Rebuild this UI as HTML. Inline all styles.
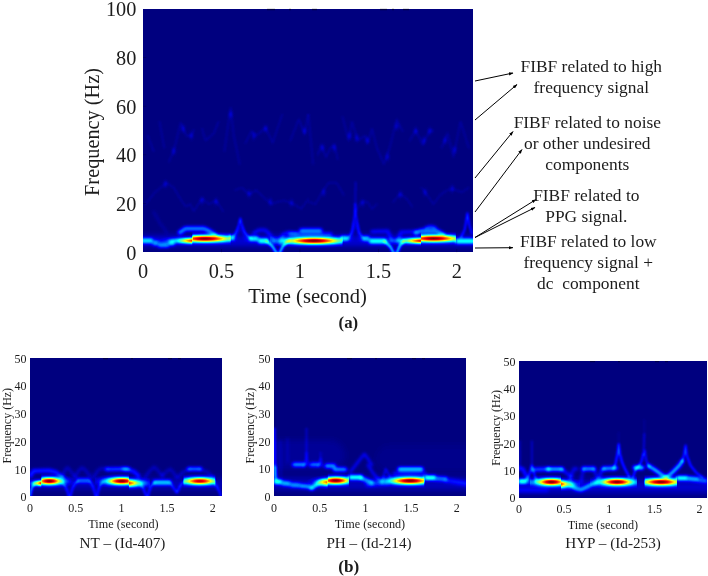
<!DOCTYPE html>
<html><head><meta charset="utf-8"><title>Figure</title>
<style>
html,body{margin:0;padding:0;background:#fff;}
body{width:708px;height:576px;position:relative;overflow:hidden;font-family:"Liberation Serif",serif;color:#1a1a1a;}
.plot{position:absolute;overflow:hidden;display:block;}
.t{position:absolute;white-space:nowrap;line-height:1;}
.r{text-align:right;}
.c{text-align:center;}
</style></head><body>
<svg width="0" height="0" style="position:absolute"><defs>
<radialGradient id="gg"><stop offset="0.000" stop-color="#fff" stop-opacity="1.000"/><stop offset="0.083" stop-color="#fff" stop-opacity="0.969"/><stop offset="0.167" stop-color="#fff" stop-opacity="0.882"/><stop offset="0.250" stop-color="#fff" stop-opacity="0.755"/><stop offset="0.333" stop-color="#fff" stop-opacity="0.607"/><stop offset="0.417" stop-color="#fff" stop-opacity="0.458"/><stop offset="0.500" stop-color="#fff" stop-opacity="0.325"/><stop offset="0.583" stop-color="#fff" stop-opacity="0.216"/><stop offset="0.667" stop-color="#fff" stop-opacity="0.135"/><stop offset="0.750" stop-color="#fff" stop-opacity="0.080"/><stop offset="0.833" stop-color="#fff" stop-opacity="0.044"/><stop offset="0.917" stop-color="#fff" stop-opacity="0.023"/><stop offset="1.000" stop-color="#fff" stop-opacity="0.000"/></radialGradient>
<filter id="b1" filterUnits="userSpaceOnUse" x="-20" y="-20" width="400" height="300"><feGaussianBlur stdDeviation="0.9"/></filter>
<filter id="b2" filterUnits="userSpaceOnUse" x="-20" y="-20" width="400" height="300"><feGaussianBlur stdDeviation="1.8"/></filter>
<filter id="b3" filterUnits="userSpaceOnUse" x="-20" y="-20" width="400" height="300"><feGaussianBlur stdDeviation="3"/></filter>
<filter id="jet" filterUnits="userSpaceOnUse" x="-20" y="-20" width="400" height="300" color-interpolation-filters="sRGB">
<feComponentTransfer>
<feFuncR type="table" tableValues="0 0 0 0 0.5 1 1 1 0.5"/>
<feFuncG type="table" tableValues="0 0 0.5 1 1 1 0.5 0 0"/>
<feFuncB type="table" tableValues="0.5 1 1 1 0.5 0 0 0 0"/>
</feComponentTransfer></filter>
<marker id="ah" viewBox="0 0 10 10" refX="9" refY="5" markerWidth="4.6" markerHeight="4.6" orient="auto"><path d="M0 1.5 L10 5 L0 8.5 Z" fill="#000"/></marker>
</defs></svg>
<svg class="plot" style="left:143px;top:8.6px" width="329.5" height="243.6" viewBox="0 0 329.5 243.6"><g filter="url(#jet)"><rect x="-20" y="-20" width="369.5" height="283.6" fill="#000"/><path d="M4.7 126.8 L10.6 142.1" fill="none" stroke="#fff" stroke-width="1.7" stroke-opacity="0.034" stroke-linejoin="round" stroke-linecap="round" filter="url(#b1)"/><path d="M16.5 112.6 L21.2 138.6" fill="none" stroke="#fff" stroke-width="1.7" stroke-opacity="0.034" stroke-linejoin="round" stroke-linecap="round" filter="url(#b1)"/><path d="M25.9 152.7 L30.7 142.1 L37.7 113.8 L43.6 126.8 L48.3 126.8 L50.7 120.9" fill="none" stroke="#fff" stroke-width="1.7" stroke-opacity="0.034" stroke-linejoin="round" stroke-linecap="round" filter="url(#b1)"/><path d="M59.0 119.7 L62.5 131.5 L70.8 124.4 L75.5 112.6" fill="none" stroke="#fff" stroke-width="1.7" stroke-opacity="0.034" stroke-linejoin="round" stroke-linecap="round" filter="url(#b1)"/><path d="M81.4 142.1 L87.7 98.5 L90.8 126.8 L96.7 155.1" fill="none" stroke="#fff" stroke-width="1.7" stroke-opacity="0.034" stroke-linejoin="round" stroke-linecap="round" filter="url(#b1)"/><path d="M102.6 133.9 L108.5 122.1 L113.2 126.8 L122.6 118.5 L129.7 133.9 L139.2 105.6" fill="none" stroke="#fff" stroke-width="1.7" stroke-opacity="0.034" stroke-linejoin="round" stroke-linecap="round" filter="url(#b1)"/><path d="M147.4 131.5 L155.7 110.3 L161.6 124.4 L165.1 105.6" fill="none" stroke="#fff" stroke-width="1.7" stroke-opacity="0.034" stroke-linejoin="round" stroke-linecap="round" filter="url(#b1)"/><path d="M2.4 195.2 L11.8 183.4 L23.6 173.9 L30.7 178.7 L37.7 190.5 L42.5 197.5 L47.2 195.2 L50.7 202.2 L59.0 189.3 L66.0 195.2 L73.1 191.6 L80.2 202.2" fill="none" stroke="#fff" stroke-width="1.7" stroke-opacity="0.034" stroke-linejoin="round" stroke-linecap="round" filter="url(#b1)"/><path d="M92.0 181.0 L99.1 178.7 L106.1 185.7 L113.2 181.0 L120.3 188.1 L128.5 195.2 L134.4 192.8 L141.5 191.6 L150.9 195.2 L158.0 199.9 L165.1 190.5" fill="none" stroke="#fff" stroke-width="1.7" stroke-opacity="0.034" stroke-linejoin="round" stroke-linecap="round" filter="url(#b1)"/><path d="M165.4 105.6 L170.1 155.1" fill="none" stroke="#fff" stroke-width="1.7" stroke-opacity="0.034" stroke-linejoin="round" stroke-linecap="round" filter="url(#b1)"/><path d="M174.8 145.6 L178.3 136.2 L183.0 148.0 L187.8 138.6 L191.3 136.2 L194.8 150.4" fill="none" stroke="#fff" stroke-width="1.7" stroke-opacity="0.034" stroke-linejoin="round" stroke-linecap="round" filter="url(#b1)"/><path d="M199.6 107.9 L205.5 131.5 L209.0 112.6 L214.9 131.5 L222.0 126.8 L224.8 133.9 L229.0 119.7 L233.8 138.6 L240.8 155.1 L246.7 138.6 L253.8 110.3 L259.7 122.1" fill="none" stroke="#fff" stroke-width="1.7" stroke-opacity="0.034" stroke-linejoin="round" stroke-linecap="round" filter="url(#b1)"/><path d="M266.8 131.5 L272.7 120.9 L279.7 136.2 L286.8 120.9 L290.4 122.1" fill="none" stroke="#fff" stroke-width="1.7" stroke-opacity="0.034" stroke-linejoin="round" stroke-linecap="round" filter="url(#b1)"/><path d="M298.6 138.6 L304.5 124.4 L310.4 148.0 L317.5 112.6 L325.7 138.6" fill="none" stroke="#fff" stroke-width="1.7" stroke-opacity="0.034" stroke-linejoin="round" stroke-linecap="round" filter="url(#b1)"/><path d="M165.4 192.8 L172.4 195.2 L180.7 181.0 L185.4 173.9 L193.7 173.9 L200.7 185.7" fill="none" stroke="#fff" stroke-width="1.7" stroke-opacity="0.034" stroke-linejoin="round" stroke-linecap="round" filter="url(#b1)"/><path d="M212.5 202.2 L218.4 192.8 L224.3 192.8 L229.0 199.9 L233.8 195.2" fill="none" stroke="#fff" stroke-width="1.7" stroke-opacity="0.034" stroke-linejoin="round" stroke-linecap="round" filter="url(#b1)"/><path d="M250.3 192.8 L257.3 184.6 L264.4 190.5 L269.1 197.5" fill="none" stroke="#fff" stroke-width="1.7" stroke-opacity="0.034" stroke-linejoin="round" stroke-linecap="round" filter="url(#b1)"/><path d="M278.6 178.7 L285.6 188.1 L290.4 195.2 L297.4 185.7 L304.5 181.0 L310.4 179.8 L318.7 183.4 L325.7 178.7" fill="none" stroke="#fff" stroke-width="1.7" stroke-opacity="0.034" stroke-linejoin="round" stroke-linecap="round" filter="url(#b1)"/><ellipse cx="30.7" cy="142.1" rx="4.8" ry="7.2" fill="url(#gg)" opacity="0.05"/><ellipse cx="40.1" cy="119.7" rx="4.8" ry="7.2" fill="url(#gg)" opacity="0.05"/><ellipse cx="48.3" cy="126.8" rx="4.8" ry="7.2" fill="url(#gg)" opacity="0.05"/><ellipse cx="87.7" cy="105.6" rx="4.8" ry="7.2" fill="url(#gg)" opacity="0.05"/><ellipse cx="110.8" cy="126.8" rx="4.8" ry="7.2" fill="url(#gg)" opacity="0.05"/><ellipse cx="122.6" cy="119.7" rx="4.8" ry="7.2" fill="url(#gg)" opacity="0.05"/><ellipse cx="161.6" cy="122.1" rx="4.8" ry="7.2" fill="url(#gg)" opacity="0.05"/><ellipse cx="22.4" cy="175.1" rx="4.8" ry="7.2" fill="url(#gg)" opacity="0.05"/><ellipse cx="106.1" cy="184.6" rx="4.8" ry="7.2" fill="url(#gg)" opacity="0.05"/><ellipse cx="127.4" cy="192.8" rx="4.8" ry="7.2" fill="url(#gg)" opacity="0.05"/><ellipse cx="148.6" cy="194.0" rx="4.8" ry="7.2" fill="url(#gg)" opacity="0.05"/><ellipse cx="59.0" cy="191.6" rx="4.8" ry="7.2" fill="url(#gg)" opacity="0.05"/><ellipse cx="73.1" cy="192.8" rx="4.8" ry="7.2" fill="url(#gg)" opacity="0.05"/><ellipse cx="179.5" cy="138.6" rx="4.8" ry="7.2" fill="url(#gg)" opacity="0.05"/><ellipse cx="191.3" cy="138.6" rx="4.8" ry="7.2" fill="url(#gg)" opacity="0.05"/><ellipse cx="206.6" cy="126.8" rx="4.8" ry="7.2" fill="url(#gg)" opacity="0.05"/><ellipse cx="213.7" cy="129.1" rx="4.8" ry="7.2" fill="url(#gg)" opacity="0.05"/><ellipse cx="224.3" cy="131.5" rx="4.8" ry="7.2" fill="url(#gg)" opacity="0.05"/><ellipse cx="244.4" cy="148.0" rx="4.8" ry="7.2" fill="url(#gg)" opacity="0.05"/><ellipse cx="253.8" cy="117.3" rx="4.8" ry="7.2" fill="url(#gg)" opacity="0.05"/><ellipse cx="272.7" cy="122.1" rx="4.8" ry="7.2" fill="url(#gg)" opacity="0.05"/><ellipse cx="280.9" cy="131.5" rx="4.8" ry="7.2" fill="url(#gg)" opacity="0.05"/><ellipse cx="286.8" cy="122.1" rx="4.8" ry="7.2" fill="url(#gg)" opacity="0.05"/><ellipse cx="302.2" cy="131.5" rx="4.8" ry="7.2" fill="url(#gg)" opacity="0.05"/><ellipse cx="311.6" cy="140.9" rx="4.8" ry="7.2" fill="url(#gg)" opacity="0.05"/><ellipse cx="180.7" cy="183.4" rx="4.8" ry="7.2" fill="url(#gg)" opacity="0.05"/><ellipse cx="257.3" cy="185.7" rx="4.8" ry="7.2" fill="url(#gg)" opacity="0.05"/><ellipse cx="282.1" cy="183.4" rx="4.8" ry="7.2" fill="url(#gg)" opacity="0.05"/><ellipse cx="219.6" cy="194.0" rx="4.8" ry="7.2" fill="url(#gg)" opacity="0.05"/><ellipse cx="309.2" cy="179.8" rx="4.8" ry="7.2" fill="url(#gg)" opacity="0.05"/><path d="M0.0 231.9 L330.0 231.9" fill="none" stroke="#fff" stroke-width="10" stroke-opacity="0.09" stroke-linejoin="round" stroke-linecap="round" filter="url(#b3)"/><path d="M-4.0 231.7 L9.7 231.7" fill="none" stroke="#fff" stroke-width="5" stroke-opacity="0.302" stroke-linejoin="round" stroke-linecap="butt" filter="url(#b2)"/><path d="M9.7 234.0 L15.3 234.0" fill="none" stroke="#fff" stroke-width="5" stroke-opacity="0.238" stroke-linejoin="round" stroke-linecap="butt" filter="url(#b2)"/><path d="M15.3 236.1 L25.8 236.1" fill="none" stroke="#fff" stroke-width="5" stroke-opacity="0.238" stroke-linejoin="round" stroke-linecap="butt" filter="url(#b2)"/><path d="M25.8 234.0 L31.5 234.0" fill="none" stroke="#fff" stroke-width="5" stroke-opacity="0.288" stroke-linejoin="round" stroke-linecap="butt" filter="url(#b2)"/><path d="M86.0 228.6 L91.0 228.6" fill="none" stroke="#fff" stroke-width="5" stroke-opacity="0.302" stroke-linejoin="round" stroke-linecap="butt" filter="url(#b2)"/><path d="M90.0 228.9 L93.5 222.4 L95.6 216.4 L97.3 209.3 L99.0 216.4 L101.5 222.9 L105.0 227.4 L108.0 229.4" fill="none" stroke="#fff" stroke-width="1.6" stroke-opacity="0.21" stroke-linejoin="round" stroke-linecap="round" filter="url(#b1)"/><path d="M91.0 230.4 L97.3 218.4 L104.0 230.4" fill="none" stroke="#fff" stroke-width="3" stroke-opacity="0.07" stroke-linejoin="round" stroke-linecap="round" filter="url(#b2)"/><path d="M106.0 229.6 L115.4 229.6" fill="none" stroke="#fff" stroke-width="5" stroke-opacity="0.331" stroke-linejoin="round" stroke-linecap="butt" filter="url(#b2)"/><path d="M115.4 231.9 L125.0 231.9" fill="none" stroke="#fff" stroke-width="5" stroke-opacity="0.374" stroke-linejoin="round" stroke-linecap="butt" filter="url(#b2)"/><path d="M124.0 232.2 L129.5 237.4 L133.6 243.9" fill="none" stroke="#fff" stroke-width="2.8" stroke-opacity="0.32" stroke-linejoin="round" stroke-linecap="round" filter="url(#b1)"/><path d="M136.6 243.9 L139.8 237.4 L143.2 233.6 L147.0 231.8" fill="none" stroke="#fff" stroke-width="2.8" stroke-opacity="0.32" stroke-linejoin="round" stroke-linecap="round" filter="url(#b1)"/><path d="M198.0 229.3 L205.5 229.3" fill="none" stroke="#fff" stroke-width="5" stroke-opacity="0.324" stroke-linejoin="round" stroke-linecap="butt" filter="url(#b2)"/><path d="M205.0 229.6 L209.0 223.2 L211.6 206.4 L212.3 194.9 L213.0 206.4 L216.0 223.2 L220.5 229.6" fill="none" stroke="#fff" stroke-width="1.5" stroke-opacity="0.18" stroke-linejoin="round" stroke-linecap="round" filter="url(#b1)"/><path d="M207.0 230.4 L212.3 213.4 L218.0 230.4" fill="none" stroke="#fff" stroke-width="3" stroke-opacity="0.07" stroke-linejoin="round" stroke-linecap="round" filter="url(#b2)"/><path d="M212.3 195.4 L212.6 173.4" fill="none" stroke="#fff" stroke-width="1.6" stroke-opacity="0.07" stroke-linejoin="round" stroke-linecap="round" filter="url(#b1)"/><path d="M219.5 229.5 L226.3 229.5" fill="none" stroke="#fff" stroke-width="5" stroke-opacity="0.274" stroke-linejoin="round" stroke-linecap="butt" filter="url(#b2)"/><path d="M226.3 232.1 L243.0 232.1" fill="none" stroke="#fff" stroke-width="5" stroke-opacity="0.36" stroke-linejoin="round" stroke-linecap="butt" filter="url(#b2)"/><path d="M242.0 232.4 L247.5 237.9 L250.6 243.9" fill="none" stroke="#fff" stroke-width="2.8" stroke-opacity="0.32" stroke-linejoin="round" stroke-linecap="round" filter="url(#b1)"/><path d="M253.8 243.9 L257.0 236.4 L260.8 232.2" fill="none" stroke="#fff" stroke-width="2.8" stroke-opacity="0.32" stroke-linejoin="round" stroke-linecap="round" filter="url(#b1)"/><path d="M312.9 232.1 L333.0 232.1" fill="none" stroke="#fff" stroke-width="5" stroke-opacity="0.36" stroke-linejoin="round" stroke-linecap="butt" filter="url(#b2)"/><path d="M318.0 228.4 L321.8 220.4 L324.4 204.1 L326.5 216.4 L329.0 224.4" fill="none" stroke="#fff" stroke-width="1.7" stroke-opacity="0.2" stroke-linejoin="round" stroke-linecap="round" filter="url(#b1)"/><path d="M37.0 223.4 L42.4 219.6 L61.0 219.6 L66.0 221.9 L72.0 225.9" fill="none" stroke="#fff" stroke-width="4.6" stroke-opacity="0.25" stroke-linejoin="round" stroke-linecap="round" filter="url(#b2)"/><path d="M11.0 203.4 L17.0 214.4 L24.0 223.4" fill="none" stroke="#fff" stroke-width="3" stroke-opacity="0.03" stroke-linejoin="round" stroke-linecap="round" filter="url(#b2)"/><path d="M111.0 223.9 L116.0 220.9 L122.0 220.9 L126.0 224.4 L131.0 232.4" fill="none" stroke="#fff" stroke-width="3.5" stroke-opacity="0.12" stroke-linejoin="round" stroke-linecap="round" filter="url(#b2)"/><path d="M137.5 234.4 L140.0 225.4 L145.0 223.4 L154.0 223.9" fill="none" stroke="#fff" stroke-width="3.5" stroke-opacity="0.12" stroke-linejoin="round" stroke-linecap="round" filter="url(#b2)"/><path d="M158.3 221.5 L177.3 221.5" fill="none" stroke="#fff" stroke-width="4.6" stroke-opacity="0.25" stroke-linejoin="round" stroke-linecap="round" filter="url(#b2)"/><path d="M147.0 225.3 L187.5 225.3" fill="none" stroke="#fff" stroke-width="4" stroke-opacity="0.16" stroke-linejoin="round" stroke-linecap="round" filter="url(#b2)"/><path d="M229.0 222.4 L245.0 222.0 L248.5 231.4" fill="none" stroke="#fff" stroke-width="3.5" stroke-opacity="0.12" stroke-linejoin="round" stroke-linecap="round" filter="url(#b2)"/><path d="M255.0 231.4 L258.0 222.9 L273.0 222.4" fill="none" stroke="#fff" stroke-width="3.5" stroke-opacity="0.12" stroke-linejoin="round" stroke-linecap="round" filter="url(#b2)"/><path d="M273.0 223.9 L278.0 221.9 L294.0 221.9 L300.0 225.4" fill="none" stroke="#fff" stroke-width="4.6" stroke-opacity="0.25" stroke-linejoin="round" stroke-linecap="round" filter="url(#b2)"/><path d="M283.0 218.6 L287.0 217.6 L292.0 218.6" fill="none" stroke="#fff" stroke-width="3" stroke-opacity="0.2" stroke-linejoin="round" stroke-linecap="round" filter="url(#b2)"/><clipPath id="c1"><rect x="7.0" y="-10" width="42.3" height="263.6"/></clipPath><ellipse cx="55.0" cy="231.7" rx="42.0" ry="6.0" fill="url(#gg)" opacity="0.9" clip-path="url(#c1)"/><clipPath id="c2"><rect x="49.3" y="-10" width="38.4" height="263.6"/></clipPath><ellipse cx="62.0" cy="229.7" rx="54.0" ry="7.4" fill="url(#gg)" opacity="1.0" clip-path="url(#c2)"/><clipPath id="c3"><rect x="127.0" y="-10" width="72.6" height="263.6"/></clipPath><ellipse cx="171.0" cy="231.8" rx="57.0" ry="7.4" fill="url(#gg)" opacity="1.0" clip-path="url(#c3)"/><clipPath id="c4"><rect x="237.0" y="-10" width="41.0" height="263.6"/></clipPath><ellipse cx="282.0" cy="231.8" rx="45.0" ry="6.0" fill="url(#gg)" opacity="0.9" clip-path="url(#c4)"/><clipPath id="c5"><rect x="278.0" y="-10" width="34.9" height="263.6"/></clipPath><ellipse cx="290.5" cy="229.5" rx="54.0" ry="7.4" fill="url(#gg)" opacity="1.0" clip-path="url(#c5)"/></g></svg>
<svg class="plot" style="left:30.1px;top:357.9px" width="191.8" height="138.6" viewBox="0 0 191.8 138.6"><g filter="url(#jet)"><rect x="-20" y="-20" width="231.8" height="178.6" fill="#000"/><path d="M-0.1 126.1 L191.9 126.1" fill="none" stroke="#fff" stroke-width="10" stroke-opacity="0.06" stroke-linejoin="round" stroke-linecap="round" filter="url(#b3)"/><path d="M0.0 138.6 L1.0 132.9 L2.4 128.7 L5.0 125.6" fill="none" stroke="#fff" stroke-width="2.6" stroke-opacity="0.26" stroke-linejoin="round" stroke-linecap="round" filter="url(#b1)"/><path d="M0.7 117.4 L3.5 112.9 L19.1 112.5 L26.1 114.3 L32.5 119.1" fill="none" stroke="#fff" stroke-width="4" stroke-opacity="0.17" stroke-linejoin="round" stroke-linecap="round" filter="url(#b2)"/><path d="M31.8 119.1 L34.9 112.5 L37.4 109.6 L40.3 112.5 L44.5 118.5" fill="none" stroke="#fff" stroke-width="3" stroke-opacity="0.065" stroke-linejoin="round" stroke-linecap="round" filter="url(#b2)"/><path d="M45.2 118.5 L48.7 112.5 L52.3 109.6 L55.8 112.5 L60.0 118.1" fill="none" stroke="#fff" stroke-width="3" stroke-opacity="0.065" stroke-linejoin="round" stroke-linecap="round" filter="url(#b2)"/><path d="M63.6 119.1 L67.8 112.5 L71.3 110.3 L77.0 111.1" fill="none" stroke="#fff" stroke-width="3" stroke-opacity="0.065" stroke-linejoin="round" stroke-linecap="round" filter="url(#b2)"/><path d="M77.0 111.3 L91.1 111.1 L97.9 111.1" fill="none" stroke="#fff" stroke-width="4" stroke-opacity="0.2" stroke-linejoin="round" stroke-linecap="round" filter="url(#b2)"/><path d="M31.5 123.8 L34.9 127.6 L37.4 132.9 L38.9 138.9" fill="none" stroke="#fff" stroke-width="2.4" stroke-opacity="0.15" stroke-linejoin="round" stroke-linecap="round" filter="url(#b1)"/><path d="M40.3 138.9 L42.0 131.5 L44.5 126.2 L47.6 123.3" fill="none" stroke="#fff" stroke-width="2.4" stroke-opacity="0.14" stroke-linejoin="round" stroke-linecap="round" filter="url(#b1)"/><path d="M46.6 122.5 L60.0 122.5" fill="none" stroke="#fff" stroke-width="4.5" stroke-opacity="0.2" stroke-linejoin="round" stroke-linecap="butt" filter="url(#b2)"/><path d="M59.8 123.1 L62.6 128.0 L64.6 133.7 L65.7 138.9" fill="none" stroke="#fff" stroke-width="2.4" stroke-opacity="0.14" stroke-linejoin="round" stroke-linecap="round" filter="url(#b1)"/><path d="M67.1 138.9 L68.5 131.5 L70.6 126.2 L73.5 123.5" fill="none" stroke="#fff" stroke-width="2.4" stroke-opacity="0.15" stroke-linejoin="round" stroke-linecap="round" filter="url(#b1)"/><path d="M93.9 111.1 L99.5 111.8 L104.5 113.9 L108.7 118.1" fill="none" stroke="#fff" stroke-width="4" stroke-opacity="0.16" stroke-linejoin="round" stroke-linecap="round" filter="url(#b2)"/><path d="M110.6 125.9 L113.7 131.5 L115.4 135.8 L116.5 138.9" fill="none" stroke="#fff" stroke-width="2.4" stroke-opacity="0.15" stroke-linejoin="round" stroke-linecap="round" filter="url(#b1)"/><path d="M117.9 138.9 L119.3 132.2 L121.4 127.3 L124.3 124.8" fill="none" stroke="#fff" stroke-width="2.4" stroke-opacity="0.15" stroke-linejoin="round" stroke-linecap="round" filter="url(#b1)"/><path d="M123.3 124.5 L140.8 124.5" fill="none" stroke="#fff" stroke-width="4.8" stroke-opacity="0.3" stroke-linejoin="round" stroke-linecap="butt" filter="url(#b2)"/><path d="M140.5 125.0 L143.6 130.1 L146.4 134.1" fill="none" stroke="#fff" stroke-width="2.4" stroke-opacity="0.14" stroke-linejoin="round" stroke-linecap="round" filter="url(#b1)"/><path d="M147.3 134.1 L149.7 128.7 L152.5 124.9 L155.3 123.5" fill="none" stroke="#fff" stroke-width="2.4" stroke-opacity="0.15" stroke-linejoin="round" stroke-linecap="round" filter="url(#b1)"/><path d="M184.0 124.2 L187.4 129.4 L189.7 134.1 L191.4 138.9" fill="none" stroke="#fff" stroke-width="2.4" stroke-opacity="0.15" stroke-linejoin="round" stroke-linecap="round" filter="url(#b1)"/><path d="M115.1 119.1 L120.0 112.5 L124.3 108.9 L128.5 113.2 L132.3 117.7" fill="none" stroke="#fff" stroke-width="3" stroke-opacity="0.065" stroke-linejoin="round" stroke-linecap="round" filter="url(#b2)"/><path d="M132.3 117.7 L136.3 113.5 L140.5 111.1 L144.0 115.3 L146.4 119.1" fill="none" stroke="#fff" stroke-width="3" stroke-opacity="0.065" stroke-linejoin="round" stroke-linecap="round" filter="url(#b2)"/><path d="M148.3 119.1 L153.2 113.9 L158.9 111.2" fill="none" stroke="#fff" stroke-width="3" stroke-opacity="0.07" stroke-linejoin="round" stroke-linecap="round" filter="url(#b2)"/><path d="M158.9 111.1 L170.2 111.1" fill="none" stroke="#fff" stroke-width="4" stroke-opacity="0.24" stroke-linejoin="round" stroke-linecap="round" filter="url(#b2)"/><path d="M170.2 111.2 L177.2 113.9 L182.9 119.1" fill="none" stroke="#fff" stroke-width="3" stroke-opacity="0.07" stroke-linejoin="round" stroke-linecap="round" filter="url(#b2)"/><clipPath id="c6"><rect x="-0.1" y="-10" width="11.4" height="158.6"/></clipPath><ellipse cx="13.4" cy="125.2" rx="19.5" ry="5.7" fill="url(#gg)" opacity="0.9" clip-path="url(#c6)"/><clipPath id="c7"><rect x="11.3" y="-10" width="38.6" height="158.6"/></clipPath><ellipse cx="19.4" cy="123.1" rx="27.0" ry="7.8" fill="url(#gg)" opacity="1.0" clip-path="url(#c7)"/><clipPath id="c8"><rect x="64.9" y="-10" width="34.0" height="158.6"/></clipPath><ellipse cx="91.9" cy="123.1" rx="31.5" ry="7.8" fill="url(#gg)" opacity="1.0" clip-path="url(#c8)"/><clipPath id="c9"><rect x="98.9" y="-10" width="21.0" height="158.6"/></clipPath><ellipse cx="93.9" cy="125.1" rx="36.0" ry="7.8" fill="url(#gg)" opacity="0.9" clip-path="url(#c9)"/><clipPath id="c10"><rect x="153.4" y="-10" width="32.0" height="158.6"/></clipPath><ellipse cx="169.9" cy="123.1" rx="34.5" ry="7.8" fill="url(#gg)" opacity="0.93" clip-path="url(#c10)"/></g></svg>
<svg class="plot" style="left:274.1px;top:357.9px" width="191.8" height="138.5" viewBox="0 0 191.8 138.5"><g filter="url(#jet)"><rect x="-20" y="-20" width="231.8" height="178.5" fill="#000"/><path d="M1.9 97.1 L55.9 97.1" fill="none" stroke="#fff" stroke-width="30" stroke-opacity="0.022" stroke-linejoin="round" stroke-linecap="round" filter="url(#b3)"/><path d="M-0.1 126.1 L191.9 126.1" fill="none" stroke="#fff" stroke-width="12" stroke-opacity="0.06" stroke-linejoin="round" stroke-linecap="round" filter="url(#b3)"/><path d="M0.4 70.6 L0.7 97.4 L1.3 118.6" fill="none" stroke="#fff" stroke-width="2.2" stroke-opacity="0.17" stroke-linejoin="round" stroke-linecap="round" filter="url(#b1)"/><path d="M1.0 108.7 L1.9 121.4" fill="none" stroke="#fff" stroke-width="3" stroke-opacity="0.2" stroke-linejoin="round" stroke-linecap="round" filter="url(#b1)"/><path d="M6.4 83.3 L6.7 118.6" fill="none" stroke="#fff" stroke-width="2" stroke-opacity="0.045" stroke-linejoin="round" stroke-linecap="round" filter="url(#b2)"/><path d="M13.4 80.5 L13.7 104.5" fill="none" stroke="#fff" stroke-width="2" stroke-opacity="0.04" stroke-linejoin="round" stroke-linecap="round" filter="url(#b2)"/><path d="M32.5 70.6 L32.5 90.3 L32.5 107.3" fill="none" stroke="#fff" stroke-width="1.8" stroke-opacity="0.08" stroke-linejoin="round" stroke-linecap="round" filter="url(#b1)"/><path d="M29.7 108.7 L31.8 101.6 L32.5 94.6 L33.2 101.6 L35.8 108.7" fill="none" stroke="#fff" stroke-width="2" stroke-opacity="0.07" stroke-linejoin="round" stroke-linecap="round" filter="url(#b1)"/><path d="M46.6 94.6 L46.6 107.3" fill="none" stroke="#fff" stroke-width="1.8" stroke-opacity="0.06" stroke-linejoin="round" stroke-linecap="round" filter="url(#b1)"/><path d="M44.5 108.7 L46.6 100.2 L48.7 108.7" fill="none" stroke="#fff" stroke-width="2" stroke-opacity="0.07" stroke-linejoin="round" stroke-linecap="round" filter="url(#b1)"/><path d="M0.0 123.5 L7.8 123.8" fill="none" stroke="#fff" stroke-width="4.8" stroke-opacity="0.4" stroke-linejoin="round" stroke-linecap="butt" filter="url(#b2)"/><path d="M7.8 125.0 L16.3 125.9" fill="none" stroke="#fff" stroke-width="4.8" stroke-opacity="0.27" stroke-linejoin="round" stroke-linecap="butt" filter="url(#b2)"/><path d="M16.3 126.8 L26.1 127.4" fill="none" stroke="#fff" stroke-width="4.8" stroke-opacity="0.24" stroke-linejoin="round" stroke-linecap="butt" filter="url(#b2)"/><path d="M26.1 127.8 L33.9 128.5 L38.2 130.2" fill="none" stroke="#fff" stroke-width="4.2" stroke-opacity="0.26" stroke-linejoin="round" stroke-linecap="butt" filter="url(#b2)"/><path d="M38.2 130.2 L41.7 127.1 L45.9 124.5 L50.2 123.8" fill="none" stroke="#fff" stroke-width="4.0" stroke-opacity="0.3" stroke-linejoin="round" stroke-linecap="round" filter="url(#b2)"/><path d="M74.9 119.3 L88.3 119.3" fill="none" stroke="#fff" stroke-width="4.8" stroke-opacity="0.4" stroke-linejoin="round" stroke-linecap="butt" filter="url(#b2)"/><path d="M88.3 120.3 L96.8 124.2 L97.9 125.0" fill="none" stroke="#fff" stroke-width="4.2" stroke-opacity="0.25" stroke-linejoin="round" stroke-linecap="round" filter="url(#b2)"/><path d="M76.4 113.7 L82.6 105.9 L88.3 98.5 L90.4 96.0 L92.8 99.1 L97.9 107.0" fill="none" stroke="#fff" stroke-width="2.6" stroke-opacity="0.13" stroke-linejoin="round" stroke-linecap="round" filter="url(#b2)"/><path d="M93.9 107.0 L99.5 115.8 L104.5 121.4 L108.0 124.2" fill="none" stroke="#fff" stroke-width="2.6" stroke-opacity="0.13" stroke-linejoin="round" stroke-linecap="round" filter="url(#b2)"/><path d="M20.2 106.6 L29.7 106.6" fill="none" stroke="#fff" stroke-width="4.4" stroke-opacity="0.26" stroke-linejoin="round" stroke-linecap="round" filter="url(#b2)"/><path d="M37.9 106.6 L44.2 106.6" fill="none" stroke="#fff" stroke-width="4.4" stroke-opacity="0.23" stroke-linejoin="round" stroke-linecap="round" filter="url(#b2)"/><path d="M52.7 108.0 L59.8 108.0" fill="none" stroke="#fff" stroke-width="4.4" stroke-opacity="0.26" stroke-linejoin="round" stroke-linecap="round" filter="url(#b2)"/><path d="M60.8 111.5 L71.1 111.5" fill="none" stroke="#fff" stroke-width="4.4" stroke-opacity="0.26" stroke-linejoin="round" stroke-linecap="round" filter="url(#b2)"/><path d="M93.9 126.4 L105.2 125.7 L112.3 125.0" fill="none" stroke="#fff" stroke-width="5" stroke-opacity="0.1" stroke-linejoin="round" stroke-linecap="round" filter="url(#b2)"/><path d="M108.0 124.2 L111.6 110.8 L116.2 118.6" fill="none" stroke="#fff" stroke-width="2.2" stroke-opacity="0.1" stroke-linejoin="round" stroke-linecap="round" filter="url(#b1)"/><path d="M125.7 111.3 L147.3 111.3" fill="none" stroke="#fff" stroke-width="4.6" stroke-opacity="0.33" stroke-linejoin="round" stroke-linecap="round" filter="url(#b2)"/><path d="M120.7 115.5 L150.4 115.5" fill="none" stroke="#fff" stroke-width="4.6" stroke-opacity="0.11" stroke-linejoin="round" stroke-linecap="round" filter="url(#b2)"/><path d="M150.4 119.7 L161.7 119.7" fill="none" stroke="#fff" stroke-width="4.8" stroke-opacity="0.42" stroke-linejoin="round" stroke-linecap="butt" filter="url(#b2)"/><path d="M161.7 120.3 L173.0 121.1" fill="none" stroke="#fff" stroke-width="4.8" stroke-opacity="0.22" stroke-linejoin="round" stroke-linecap="butt" filter="url(#b2)"/><path d="M173.0 122.1 L192.8 125.7" fill="none" stroke="#fff" stroke-width="5" stroke-opacity="0.1" stroke-linejoin="round" stroke-linecap="round" filter="url(#b2)"/><path d="M115.1 100.2 L191.4 100.2" fill="none" stroke="#fff" stroke-width="26" stroke-opacity="0.012" stroke-linejoin="round" stroke-linecap="round" filter="url(#b3)"/><clipPath id="c11"><rect x="25.9" y="-10" width="27.8" height="158.5"/></clipPath><ellipse cx="58.9" cy="124.2" rx="27.0" ry="7.8" fill="url(#gg)" opacity="0.92" clip-path="url(#c11)"/><clipPath id="c12"><rect x="53.7" y="-10" width="21.2" height="158.5"/></clipPath><ellipse cx="61.7" cy="122.6" rx="31.5" ry="7.8" fill="url(#gg)" opacity="1.0" clip-path="url(#c12)"/><clipPath id="c13"><rect x="90.9" y="-10" width="59.5" height="158.5"/></clipPath><ellipse cx="136.2" cy="122.8" rx="42.0" ry="7.8" fill="url(#gg)" opacity="1.0" clip-path="url(#c13)"/></g></svg>
<svg class="plot" style="left:519px;top:361px" width="188" height="136.7" viewBox="0 0 188 136.7"><g filter="url(#jet)"><rect x="-20" y="-20" width="228" height="176.7" fill="#000"/><path d="M-1.0 126.0 L189.0 126.0" fill="none" stroke="#fff" stroke-width="12" stroke-opacity="0.08" stroke-linejoin="round" stroke-linecap="round" filter="url(#b3)"/><path d="M-0.0 129.5 L27.8 129.5" fill="none" stroke="#fff" stroke-width="4" stroke-opacity="0.07" stroke-linejoin="round" stroke-linecap="round" filter="url(#b2)"/><path d="M-0.7 120.3 L7.8 120.3" fill="none" stroke="#fff" stroke-width="4.8" stroke-opacity="0.42" stroke-linejoin="round" stroke-linecap="butt" filter="url(#b2)"/><path d="M-0.7 107.4 L3.8 107.7 L7.8 116.0 L10.7 121.7" fill="none" stroke="#fff" stroke-width="3.6" stroke-opacity="0.16" stroke-linejoin="round" stroke-linecap="round" filter="url(#b2)"/><path d="M0.7 80.4 L1.0 106.0" fill="none" stroke="#fff" stroke-width="1.8" stroke-opacity="0.07" stroke-linejoin="round" stroke-linecap="round" filter="url(#b1)"/><path d="M12.8 80.4 L12.8 106.0" fill="none" stroke="#fff" stroke-width="1.8" stroke-opacity="0.08" stroke-linejoin="round" stroke-linecap="round" filter="url(#b1)"/><path d="M8.1 119.5 L11.0 111.7 L12.8 104.6 L14.7 111.7 L17.8 120.3" fill="none" stroke="#fff" stroke-width="2.2" stroke-opacity="0.17" stroke-linejoin="round" stroke-linecap="round" filter="url(#b1)"/><path d="M14.2 108.6 L29.2 108.1" fill="none" stroke="#fff" stroke-width="4.4" stroke-opacity="0.2" stroke-linejoin="round" stroke-linecap="round" filter="url(#b2)"/><path d="M29.2 108.1 L42.7 108.1" fill="none" stroke="#fff" stroke-width="4.4" stroke-opacity="0.3" stroke-linejoin="round" stroke-linecap="round" filter="url(#b2)"/><path d="M42.7 108.6 L47.7 112.0 L51.3 115.3" fill="none" stroke="#fff" stroke-width="3.6" stroke-opacity="0.13" stroke-linejoin="round" stroke-linecap="round" filter="url(#b2)"/><path d="M51.3 118.8 L53.7 110.3 L55.5 107.4 L57.7 108.1" fill="none" stroke="#fff" stroke-width="3.4" stroke-opacity="0.11" stroke-linejoin="round" stroke-linecap="round" filter="url(#b2)"/><path d="M64.5 107.7 L74.8 107.7" fill="none" stroke="#fff" stroke-width="4.4" stroke-opacity="0.26" stroke-linejoin="round" stroke-linecap="round" filter="url(#b2)"/><path d="M64.5 108.1 L62.8 116.0 L62.0 121.7" fill="none" stroke="#fff" stroke-width="3" stroke-opacity="0.1" stroke-linejoin="round" stroke-linecap="round" filter="url(#b2)"/><path d="M74.8 108.1 L77.6 115.3 L79.3 119.5" fill="none" stroke="#fff" stroke-width="3" stroke-opacity="0.11" stroke-linejoin="round" stroke-linecap="round" filter="url(#b2)"/><path d="M80.2 116.7 L82.6 109.6 L84.7 107.7" fill="none" stroke="#fff" stroke-width="3.4" stroke-opacity="0.13" stroke-linejoin="round" stroke-linecap="round" filter="url(#b2)"/><path d="M84.5 107.6 L97.0 107.1" fill="none" stroke="#fff" stroke-width="4.2" stroke-opacity="0.28" stroke-linejoin="round" stroke-linecap="round" filter="url(#b2)"/><path d="M51.7 124.2 L57.0 127.7 L62.0 128.8 L66.9 126.5 L71.9 123.8 L77.9 121.7" fill="none" stroke="#fff" stroke-width="3.8" stroke-opacity="0.25" stroke-linejoin="round" stroke-linecap="round" filter="url(#b2)"/><path d="M94.4 108.1 L96.8 101.7 L98.7 91.8 L99.7 83.2 L100.8 92.5 L103.2 101.7 L106.8 109.6 L110.4 116.0" fill="none" stroke="#fff" stroke-width="2.0" stroke-opacity="0.22" stroke-linejoin="round" stroke-linecap="round" filter="url(#b1)"/><path d="M99.7 83.2 L99.7 71.8" fill="none" stroke="#fff" stroke-width="1.4" stroke-opacity="0.03" stroke-linejoin="round" stroke-linecap="round" filter="url(#b1)"/><path d="M113.9 116.7 L116.8 108.1 L119.6 105.3 L122.5 100.3 L124.3 93.2" fill="none" stroke="#fff" stroke-width="2.0" stroke-opacity="0.2" stroke-linejoin="round" stroke-linecap="round" filter="url(#b1)"/><path d="M124.3 93.2 L125.0 83.2 L125.3 73.2" fill="none" stroke="#fff" stroke-width="1.8" stroke-opacity="0.1" stroke-linejoin="round" stroke-linecap="round" filter="url(#b1)"/><path d="M125.3 73.2 L125.3 59.0" fill="none" stroke="#fff" stroke-width="1.4" stroke-opacity="0.035" stroke-linejoin="round" stroke-linecap="round" filter="url(#b1)"/><path d="M125.8 89.6 L127.2 99.6 L130.3 106.0" fill="none" stroke="#fff" stroke-width="2.0" stroke-opacity="0.15" stroke-linejoin="round" stroke-linecap="round" filter="url(#b1)"/><path d="M115.8 106.7 L123.2 106.7" fill="none" stroke="#fff" stroke-width="4.2" stroke-opacity="0.34" stroke-linejoin="round" stroke-linecap="round" filter="url(#b2)"/><path d="M129.6 104.9 L136.0 108.9 L141.7 113.1 L146.7 116.3" fill="none" stroke="#fff" stroke-width="3.8" stroke-opacity="0.32" stroke-linejoin="round" stroke-linecap="round" filter="url(#b2)"/><path d="M147.4 116.3 L151.7 113.1 L156.0 108.9 L160.2 104.6 L163.4 100.0" fill="none" stroke="#fff" stroke-width="3.8" stroke-opacity="0.32" stroke-linejoin="round" stroke-linecap="round" filter="url(#b2)"/><path d="M163.1 100.6 L165.2 93.2 L166.6 84.6 L167.8 94.6 L171.6 104.6 L177.3 111.7 L183.7 116.3" fill="none" stroke="#fff" stroke-width="2.0" stroke-opacity="0.2" stroke-linejoin="round" stroke-linecap="round" filter="url(#b1)"/><path d="M157.4 117.1 L168.8 117.1" fill="none" stroke="#fff" stroke-width="4.8" stroke-opacity="0.4" stroke-linejoin="round" stroke-linecap="butt" filter="url(#b2)"/><path d="M168.8 117.4 L180.2 118.3" fill="none" stroke="#fff" stroke-width="4.8" stroke-opacity="0.3" stroke-linejoin="round" stroke-linecap="butt" filter="url(#b2)"/><path d="M180.2 118.8 L188.7 120.0" fill="none" stroke="#fff" stroke-width="4.8" stroke-opacity="0.2" stroke-linejoin="round" stroke-linecap="butt" filter="url(#b2)"/><clipPath id="c14"><rect x="11.0" y="-10" width="31.0" height="156.7"/></clipPath><ellipse cx="32.4" cy="121.0" rx="31.5" ry="7.8" fill="url(#gg)" opacity="1.0" clip-path="url(#c14)"/><clipPath id="c15"><rect x="42.0" y="-10" width="19.0" height="156.7"/></clipPath><ellipse cx="37.0" cy="123.1" rx="30.0" ry="7.8" fill="url(#gg)" opacity="0.92" clip-path="url(#c15)"/><clipPath id="c16"><rect x="71.0" y="-10" width="47.0" height="156.7"/></clipPath><ellipse cx="98.0" cy="121.0" rx="34.5" ry="7.8" fill="url(#gg)" opacity="1.0" clip-path="url(#c16)"/><clipPath id="c17"><rect x="125.5" y="-10" width="32.5" height="156.7"/></clipPath><ellipse cx="142.0" cy="121.0" rx="40.5" ry="7.8" fill="url(#gg)" opacity="1.0" clip-path="url(#c17)"/></g></svg>
<svg style="position:absolute;left:0;top:0" width="708" height="576" viewBox="0 0 708 576" font-family="'Liberation Serif', serif" fill="#1c1c1c"><rect x="267" y="8.8" width="8" height="1.4" fill="#000018" opacity="0.55"/><rect x="289" y="8.8" width="2" height="1.4" fill="#000018" opacity="0.55"/><rect x="312" y="8.8" width="5" height="1.4" fill="#000018" opacity="0.55"/><rect x="380" y="8.8" width="7" height="1.4" fill="#000018" opacity="0.55"/><rect x="392" y="8.8" width="2" height="1.4" fill="#000018" opacity="0.55"/><rect x="403" y="8.8" width="6" height="1.4" fill="#000018" opacity="0.55"/><rect x="103" y="358" width="5" height="1.2" fill="#000018" opacity="0.5"/><rect x="131" y="358" width="2" height="1.2" fill="#000018" opacity="0.5"/><rect x="168" y="358" width="4" height="1.2" fill="#000018" opacity="0.5"/><rect x="178" y="358" width="3" height="1.2" fill="#000018" opacity="0.5"/><rect x="347" y="358" width="5" height="1.2" fill="#000018" opacity="0.5"/><rect x="375" y="358" width="2" height="1.2" fill="#000018" opacity="0.5"/><rect x="412" y="358" width="4" height="1.2" fill="#000018" opacity="0.5"/><rect x="422" y="358" width="3" height="1.2" fill="#000018" opacity="0.5"/><rect x="590" y="361" width="5" height="1.2" fill="#000018" opacity="0.5"/><rect x="618" y="361" width="2" height="1.2" fill="#000018" opacity="0.5"/><rect x="655" y="361" width="4" height="1.2" fill="#000018" opacity="0.5"/><rect x="665" y="361" width="3" height="1.2" fill="#000018" opacity="0.5"/><rect x="143" y="203.1" width="3.2" height="0.8" fill="#000018" opacity="0.3"/><rect x="143" y="154.4" width="3.2" height="0.8" fill="#000018" opacity="0.3"/><rect x="143" y="105.8" width="3.2" height="0.8" fill="#000018" opacity="0.3"/><rect x="143" y="57.1" width="3.2" height="0.8" fill="#000018" opacity="0.3"/><rect x="221.1" y="249" width="0.8" height="3.2" fill="#000018" opacity="0.3"/><rect x="299.5" y="249" width="0.8" height="3.2" fill="#000018" opacity="0.3"/><rect x="378.0" y="249" width="0.8" height="3.2" fill="#000018" opacity="0.3"/><rect x="456.4" y="249" width="0.8" height="3.2" fill="#000018" opacity="0.3"/><line x1="475" y1="81" x2="513" y2="73" stroke="#000" stroke-width="1" marker-end="url(#ah)"/><line x1="475" y1="120" x2="517" y2="84.5" stroke="#000" stroke-width="1" marker-end="url(#ah)"/><line x1="475" y1="178" x2="513" y2="131.5" stroke="#000" stroke-width="1" marker-end="url(#ah)"/><line x1="475" y1="212" x2="522" y2="149.5" stroke="#000" stroke-width="1" marker-end="url(#ah)"/><line x1="475" y1="237.5" x2="536" y2="199.5" stroke="#000" stroke-width="1" marker-end="url(#ah)"/><line x1="475" y1="237.5" x2="535" y2="207.5" stroke="#000" stroke-width="1" marker-end="url(#ah)"/><line x1="475" y1="248" x2="513" y2="247.7" stroke="#000" stroke-width="1" marker-end="url(#ah)"/><text x="136.4" y="259.7" font-size="20.3" text-anchor="end" font-weight="normal" >0</text><text x="136.4" y="211.0" font-size="20.3" text-anchor="end" font-weight="normal" >20</text><text x="136.4" y="162.3" font-size="20.3" text-anchor="end" font-weight="normal" >40</text><text x="136.4" y="113.7" font-size="20.3" text-anchor="end" font-weight="normal" >60</text><text x="136.4" y="65.0" font-size="20.3" text-anchor="end" font-weight="normal" >80</text><text x="136.4" y="16.3" font-size="20.3" text-anchor="end" font-weight="normal" >100</text><text x="143.0" y="278.2" font-size="20.3" text-anchor="middle" font-weight="normal" >0</text><text x="221.5" y="278.2" font-size="20.3" text-anchor="middle" font-weight="normal" >0.5</text><text x="299.9" y="278.2" font-size="20.3" text-anchor="middle" font-weight="normal" >1</text><text x="378.4" y="278.2" font-size="20.3" text-anchor="middle" font-weight="normal" >1.5</text><text x="456.8" y="278.2" font-size="20.3" text-anchor="middle" font-weight="normal" >2</text><text x="307.6" y="302.8" font-size="20.6" text-anchor="middle" font-weight="normal" >Time (second)</text><text x="0" y="0" font-size="20.3" text-anchor="middle" font-weight="normal" transform="translate(98.5 132) rotate(-90)">Frequency (Hz)</text><text x="348.4" y="328" font-size="16.8" text-anchor="middle" font-weight="bold" >(a)</text><text x="591.3" y="72" font-size="17.4" text-anchor="middle" font-weight="normal" xml:space="preserve">FIBF related to high</text><text x="591.3" y="93" font-size="17.4" text-anchor="middle" font-weight="normal" xml:space="preserve">frequency signal</text><text x="587.3" y="127.5" font-size="17.4" text-anchor="middle" font-weight="normal" xml:space="preserve">FIBF related to noise</text><text x="587.3" y="148.5" font-size="17.4" text-anchor="middle" font-weight="normal" xml:space="preserve">or other undesired</text><text x="587.3" y="169.5" font-size="17.4" text-anchor="middle" font-weight="normal" xml:space="preserve">components</text><text x="586.3" y="201" font-size="17.4" text-anchor="middle" font-weight="normal" xml:space="preserve">FIBF related to</text><text x="586.3" y="222" font-size="17.4" text-anchor="middle" font-weight="normal" xml:space="preserve">PPG signal.</text><text x="588.3" y="247" font-size="17.4" text-anchor="middle" font-weight="normal" xml:space="preserve">FIBF related to low</text><text x="588.3" y="267.5" font-size="17.4" text-anchor="middle" font-weight="normal" xml:space="preserve">frequency signal +</text><text x="588.3" y="289" font-size="17.4" text-anchor="middle" font-weight="normal" xml:space="preserve">dc  component</text><text x="26.6" y="501.2" font-size="12" text-anchor="end" font-weight="normal" >0</text><text x="26.6" y="473.5" font-size="12" text-anchor="end" font-weight="normal" >10</text><text x="26.6" y="445.8" font-size="12" text-anchor="end" font-weight="normal" >20</text><text x="26.6" y="418.0" font-size="12" text-anchor="end" font-weight="normal" >30</text><text x="26.6" y="390.3" font-size="12" text-anchor="end" font-weight="normal" >40</text><text x="26.6" y="362.6" font-size="12" text-anchor="end" font-weight="normal" >50</text><text x="30.1" y="511.5" font-size="12" text-anchor="middle" font-weight="normal" >0</text><text x="75.8" y="511.5" font-size="12" text-anchor="middle" font-weight="normal" >0.5</text><text x="121.4" y="511.5" font-size="12" text-anchor="middle" font-weight="normal" >1</text><text x="167.1" y="511.5" font-size="12" text-anchor="middle" font-weight="normal" >1.5</text><text x="212.8" y="511.5" font-size="12" text-anchor="middle" font-weight="normal" >2</text><text x="123.5" y="527.5" font-size="12.2" text-anchor="middle" font-weight="normal" >Time (second)</text><text x="0" y="0" font-size="12" text-anchor="middle" font-weight="normal" transform="translate(10.5 425.7) rotate(-90)">Frequency (Hz)</text><text x="122.5" y="548" font-size="15.2" text-anchor="middle" font-weight="normal" >NT – (Id-407)</text><text x="270.6" y="501.1" font-size="12" text-anchor="end" font-weight="normal" >0</text><text x="270.6" y="473.4" font-size="12" text-anchor="end" font-weight="normal" >10</text><text x="270.6" y="445.7" font-size="12" text-anchor="end" font-weight="normal" >20</text><text x="270.6" y="418.0" font-size="12" text-anchor="end" font-weight="normal" >30</text><text x="270.6" y="390.3" font-size="12" text-anchor="end" font-weight="normal" >40</text><text x="270.6" y="362.6" font-size="12" text-anchor="end" font-weight="normal" >50</text><text x="274.1" y="511.5" font-size="12" text-anchor="middle" font-weight="normal" >0</text><text x="319.8" y="511.5" font-size="12" text-anchor="middle" font-weight="normal" >0.5</text><text x="365.4" y="511.5" font-size="12" text-anchor="middle" font-weight="normal" >1</text><text x="411.1" y="511.5" font-size="12" text-anchor="middle" font-weight="normal" >1.5</text><text x="456.8" y="511.5" font-size="12" text-anchor="middle" font-weight="normal" >2</text><text x="370" y="527.5" font-size="12.2" text-anchor="middle" font-weight="normal" >Time (second)</text><text x="0" y="0" font-size="12" text-anchor="middle" font-weight="normal" transform="translate(254 425.65) rotate(-90)">Frequency (Hz)</text><text x="369" y="548" font-size="15.2" text-anchor="middle" font-weight="normal" >PH – (Id-214)</text><text x="515.5" y="502.4" font-size="12" text-anchor="end" font-weight="normal" >0</text><text x="515.5" y="475.1" font-size="12" text-anchor="end" font-weight="normal" >10</text><text x="515.5" y="447.7" font-size="12" text-anchor="end" font-weight="normal" >20</text><text x="515.5" y="420.4" font-size="12" text-anchor="end" font-weight="normal" >30</text><text x="515.5" y="393.0" font-size="12" text-anchor="end" font-weight="normal" >40</text><text x="515.5" y="365.7" font-size="12" text-anchor="end" font-weight="normal" >50</text><text x="519.0" y="512.5" font-size="12" text-anchor="middle" font-weight="normal" >0</text><text x="564.1" y="512.5" font-size="12" text-anchor="middle" font-weight="normal" >0.5</text><text x="609.3" y="512.5" font-size="12" text-anchor="middle" font-weight="normal" >1</text><text x="654.4" y="512.5" font-size="12" text-anchor="middle" font-weight="normal" >1.5</text><text x="699.6" y="512.5" font-size="12" text-anchor="middle" font-weight="normal" >2</text><text x="603" y="528.5" font-size="12.2" text-anchor="middle" font-weight="normal" >Time (second)</text><text x="0" y="0" font-size="12" text-anchor="middle" font-weight="normal" transform="translate(500 427.85) rotate(-90)">Frequency (Hz)</text><text x="613" y="548" font-size="15.2" text-anchor="middle" font-weight="normal" >HYP – (Id-253)</text><text x="348.8" y="572" font-size="17.2" text-anchor="middle" font-weight="bold" >(b)</text></svg>
</body></html>
